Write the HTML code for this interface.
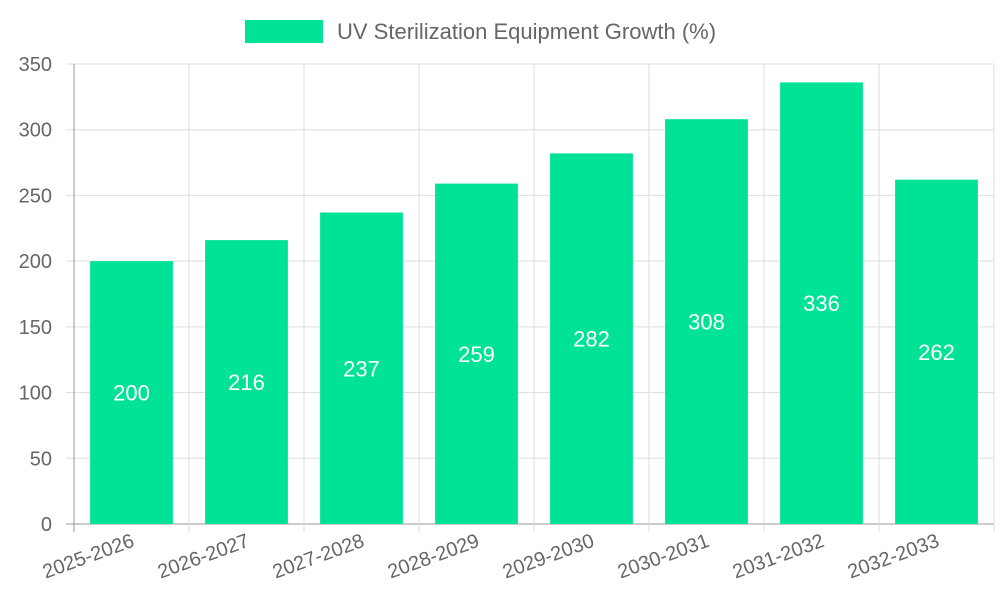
<!DOCTYPE html>
<html><head><meta charset="utf-8"><style>
body{margin:0;background:#fff;}
svg{font-family:"Liberation Sans",sans-serif;}
</style></head><body>
<svg id="chart" width="1000" height="600" viewBox="0 0 1000 600" xmlns="http://www.w3.org/2000/svg">
<g>
<rect x="245" y="20" width="78" height="23" fill="#00e396"/>
<text x="337" y="39" font-size="22" fill="#666">UV Sterilization Equipment Growth (%)</text>
</g>
<g id="grid"></g>
<g id="bars"></g>
<g id="axes"></g>
</svg>
<script>
const categories=["2025-2026","2026-2027","2027-2028","2028-2029","2029-2030","2030-2031","2031-2032","2032-2033"];
const values=[200,216,237,259,282,308,336,262];
const yTicks=[0,50,100,150,200,250,300,350];
const NS="http://www.w3.org/2000/svg";
const L=74,R=994,T=64,B=524,yMax=350;
const band=(R-L)/categories.length;
const x=i=>L+band*i;
const y=v=>B-(v/yMax)*(B-T);
function mk(tag,attrs,parent,text){const e=document.createElementNS(NS,tag);for(const k in attrs)e.setAttribute(k,attrs[k]);if(text!==undefined)e.textContent=text;parent.appendChild(e);return e;}
const grid=document.getElementById('grid'),bars=document.getElementById('bars'),axes=document.getElementById('axes');
yTicks.forEach(t=>{
  const g=mk('line',{x1:66,x2:R,y1:y(t),y2:y(t),stroke:t===0?'#999':'#ddd','stroke-width':1},grid);
  
  
  const lb=mk('text',{x:52,y:y(t)+7,'text-anchor':'end','font-size':20,fill:'#666'},axes,String(t));
  
  
});
for(let i=0;i<=categories.length;i++){
  const g=mk('line',{x1:x(i),x2:x(i),y1:T,y2:B+8,stroke:i===0?'#999':'#ddd','stroke-width':1},grid);
  
  
}
const bw=band*0.72;
categories.forEach((c,i)=>{
  const cx=x(i)+band/2,v=values[i];
  const r=mk('rect',{x:cx-bw/2,y:y(v),width:bw,height:B-y(v),fill:'#00e396'},bars);
  
  
  const t=mk('text',{x:cx,y:(y(v)+B)/2+8,'text-anchor':'middle','font-size':22,fill:'#fff'},bars,String(v));
  
  
  const xl=mk('text',{x:cx+4,y:B+22,'text-anchor':'end','font-size':20,fill:'#666',transform:`rotate(-20 ${cx+4} ${B+22})`},axes,c);
  
  
});
</script>
</body></html>
